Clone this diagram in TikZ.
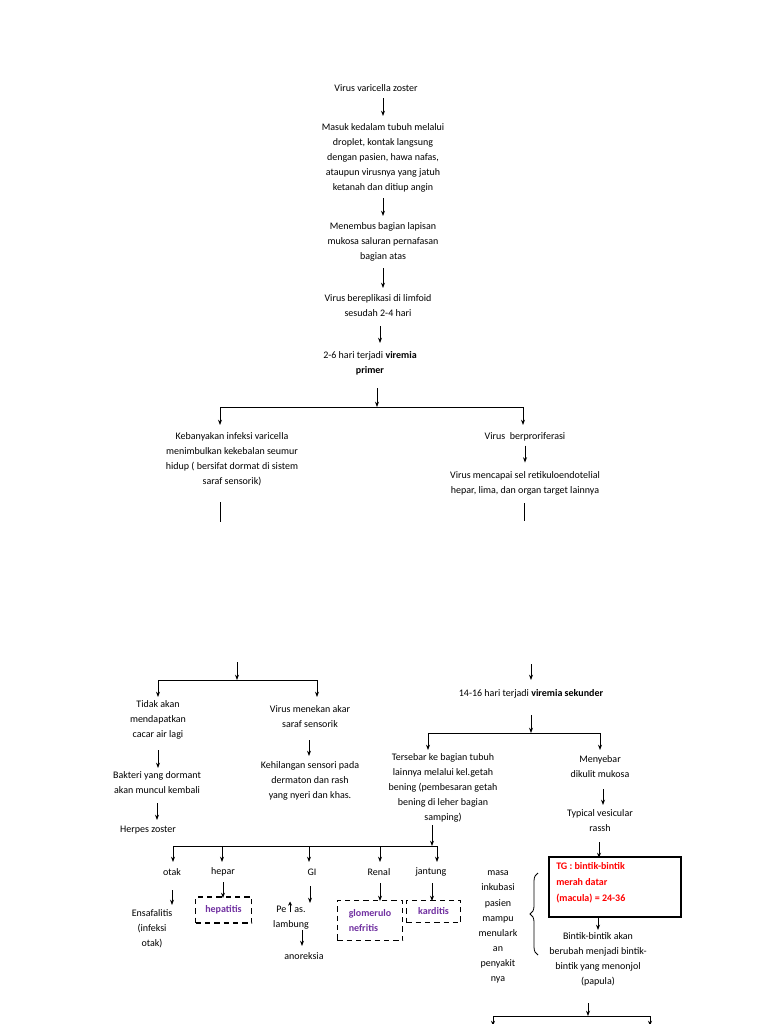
\documentclass[tikz,border=0pt]{standalone}
\usepackage{fontspec}
\setmainfont{Carlito}
\usetikzlibrary{arrows.meta,decorations.pathreplacing}
\definecolor{purp}{RGB}{112,48,160}
\begin{document}
\begin{tikzpicture}[x=0.75pt,y=-0.75pt,
  txt/.style={align=center,font=\fontsize{7.5}{11.3}\selectfont,inner sep=0pt},
  ar/.style={-{Stealth[length=4pt,width=3pt]},line width=0.6pt},
  ln/.style={line width=0.6pt},
  dbox/.style={draw,dashed,line width=0.9pt,dash pattern=on 4pt off 3pt,minimum height=19.5pt,font=\fontsize{7.5}{11.3}\selectfont\bfseries,text=purp,align=left}]
\useasboundingbox (0,0) rectangle (768,1024);
\node[txt] (a) at (376,88) {Virus varicella zoster};
\node[txt] (b) at (383,158) {Masuk kedalam tubuh melalui\\droplet, kontak langsung\\dengan pasien, hawa nafas,\\ataupun virusnya yang jatuh\\ketanah dan ditiup angin};
\node[txt] (c) at (383,242) {Menembus bagian lapisan\\mukosa saluran pernafasan\\bagian atas};
\node[txt] (d) at (378,306) {Virus bereplikasi di limfoid\\sesudah 2-4 hari};
\node[txt] (e) at (370,363) {2-6 hari terjadi \textbf{viremia}\\\textbf{primer}};
\coordinate (a1) at (383,98); \coordinate (a2) at (383,116);
\draw[ar] (a1) -- (a2);
\coordinate (b1) at (383,198); \coordinate (b2) at (383,216);
\draw[ar] (b1) -- (b2);
\coordinate (c1) at (383,268); \coordinate (c2) at (383,288);
\draw[ar] (c1) -- (c2);
\coordinate (d1) at (380,326); \coordinate (d2) at (380,343);
\draw[ar] (d1) -- (d2);
\coordinate (e1) at (377,388); \coordinate (e2) at (377,407);
\draw[ar] (e1) -- (e2);
\coordinate (h1) at (220,407); \coordinate (h2) at (523,407);
\draw[ln] (h1) -- (h2);
\coordinate (h1d) at (220,425); \coordinate (h2d) at (523,425);
\draw[ar] (h1) -- (h1d); \draw[ar] (h2) -- (h2d);
\node[txt] (f) at (232,459) {Kebanyakan infeksi varicella\\menimbulkan kekebalan seumur\\hidup ( bersifat dormat di sistem\\saraf sensorik)};
\node[txt] (g) at (525,437) {Virus\ \ berproriferasi};
\node[txt] (g2) at (525,483) {Virus mencapai sel retikuloendotelial\\hepar, lima, dan organ target lainnya};
\draw[ar] (g.south) ++(0,4) coordinate (g1) -- ++(0,17) coordinate (g1e);
\coordinate (v1) at (220,502); \coordinate (v2) at (220,522);
\draw[ln] (v1) -- (v2);
\coordinate (v3) at (524,503); \coordinate (v4) at (524,521);
\draw[ln] (v3) -- (v4);
% lower left
\coordinate (l0) at (237,662); \coordinate (l1) at (237,680);
\draw[ar] (l0) -- (l1);
\coordinate (l2) at (158,680); \coordinate (l3) at (317,680);
\draw[ln] (l2) -- (l3);
\coordinate (l2d) at (158,697); \coordinate (l3d) at (317,697);
\draw[ar] (l2) -- (l2d); \draw[ar] (l3) -- (l3d);
\node[txt] (t1) at (158,720) {Tidak akan\\mendapatkan\\cacar air lagi};
\node[txt] (t2) at (157,783) {Bakteri yang dormant\\akan muncul kembali};
\node[txt] (t3) at (148,830) {Herpes zoster};
\coordinate (t1a) at (158,750); \coordinate (t1b) at (158,768);
\draw[ar] (t1a) -- (t1b);
\coordinate (t2a) at (157,803); \coordinate (t2b) at (157,820);
\draw[ar] (t2a) -- (t2b);
\node[txt] (m1) at (310,717) {Virus menekan akar\\saraf sensorik};
\node[txt] (m2) at (310,781) {Kehilangan sensori pada\\dermaton dan rash\\yang nyeri dan khas.};
\coordinate (m1a) at (309,740); \coordinate (m1b) at (309,756);
\draw[ar] (m1a) -- (m1b);
% lower right
\coordinate (r0) at (531,664); \coordinate (r1) at (531,680);
\draw[ar] (r0) -- (r1);
\node[txt] (s) at (531,694) {14-16 hari terjadi \textbf{viremia sekunder}};
\coordinate (s1) at (531,715); \coordinate (s2) at (531,733);
\draw[ar] (s1) -- (s2);
\coordinate (s3) at (428,733); \coordinate (s4) at (600,733);
\draw[ln] (s3) -- (s4);
\coordinate (s3d) at (428,750); \coordinate (s4d) at (600,750);
\draw[ar] (s3) -- (s3d); \draw[ar] (s4) -- (s4d);
\node[txt] (ts) at (443,788) {Tersebar ke bagian tubuh\\lainnya melalui kel.getah\\bening (pembesaran getah\\bening di leher bagian\\samping)};
\node[txt] (ms) at (600,767) {Menyebar\\dikulit mukosa};
\node[txt] (ty) at (600,821) {Typical vesicular\\rassh};
\coordinate (ms1) at (603,789); \coordinate (ms2) at (603,805);
\draw[ar] (ms1) -- (ms2);
\coordinate (ty1) at (599,842); \coordinate (ty2) at (599,858);
\draw[ar] (ty1) -- (ty2);
\node[draw,line width=1.5pt,minimum width=99pt,minimum height=45pt,inner sep=0pt] (tg) at (614.5,887) {};
\node[txt,align=left,anchor=north west,text=red,font=\fontsize{7.5}{12}\selectfont\bfseries] (tgt) at (556,862) {TG : bintik-bintik\\merah datar\\(macula) = 24-36};
\coordinate (tg1) at (598,917); \coordinate (tg2) at (598,930);
\draw[ar] (tg1) -- (tg2);
\node[txt] (bb) at (598,959) {Bintik-bintik akan\\berubah menjadi bintik-\\bintik yang menonjol\\(papula)};
\coordinate (bb1) at (588,1003); \coordinate (bb2) at (588,1016);
\draw[ar] (bb1) -- (bb2);
\coordinate (bb3) at (493,1016); \coordinate (bb4) at (650,1016);
\draw[ln] (bb3) -- (bb4);
\coordinate (bb3d) at (493,1026); \coordinate (bb4d) at (650,1026);
\draw[ar] (bb3) -- (bb3d); \draw[ar] (bb4) -- (bb4d);
\node[txt,font=\fontsize{7.5}{11.3}\selectfont] (masa) at (498,927) {masa\\inkubasi\\pasien\\mampu\\menulark\\an\\penyakit\\nya};
\coordinate (br1) at (538,955); \coordinate (br2) at (538,873);
\draw[ln,decorate,decoration={brace,amplitude=6pt}] (br1) -- (br2);
% organ branch
\coordinate (o0) at (432,825); \coordinate (o1) at (432,846);
\draw[ar] (o0) -- (o1);
\coordinate (o2) at (173,846); \coordinate (o3) at (437,846);
\draw[ln] (o2) -- (o3);
\foreach \x/\n in {173/oa,222/ob,309/oc,380/od,437/oe}{
  \coordinate (\n) at (\x,846); \coordinate (\n d) at (\x,862);
  \draw[ar] (\n) -- (\n d);}
\node[txt] (otak) at (172,872) {otak};
\node[txt] (hepar) at (223,872) {hepar};
\node[txt] (gi) at (312,872) {GI};
\node[txt] (renal) at (379,872) {Renal};
\node[txt] (jant) at (431,872) {jantung};
\coordinate (k1) at (172,890); \coordinate (k2) at (172,905);
\draw[ar] (k1) -- (k2);
\node[txt] (ens) at (152,929) {Ensafalitis\\(infeksi\\otak)};
\node[dbox,minimum width=42pt] (hep) at (223.5,910) {hepatitis};
\coordinate (k3) at (223,882); \coordinate (k4) at (223,898);
\draw[ar] (k3) -- (k4);
\coordinate (k5) at (310,886); \coordinate (k6) at (310,903);
\draw[ar] (k5) -- (k6);
\node[txt] (pe) at (291,915) {Pe\,\raisebox{-0.5pt}{\tikz[x=1pt,y=1pt]\draw[-{Stealth[length=3pt,width=3pt]},line width=0.8pt](0,0)--(0,8);} as.\\lambung};
\coordinate (k7) at (302,930); \coordinate (k8) at (302,946);
\draw[ar] (k7) -- (k8);
\node[txt] (ano) at (304,956) {anoreksia};
\node[dbox,minimum width=49pt,minimum height=30.5pt] (glo) at (370,920.5) {glomerulo\\nefritis};
\coordinate (k9) at (380,883); \coordinate (k10) at (380,901);
\draw[ar] (k9) -- (k10);
\node[dbox,minimum width=41pt,minimum height=17pt] (kar) at (433.5,911.5) {karditis};
\coordinate (k11) at (432,883); \coordinate (k12) at (432,901);
\draw[ar] (k11) -- (k12);
\end{tikzpicture}
\end{document}
